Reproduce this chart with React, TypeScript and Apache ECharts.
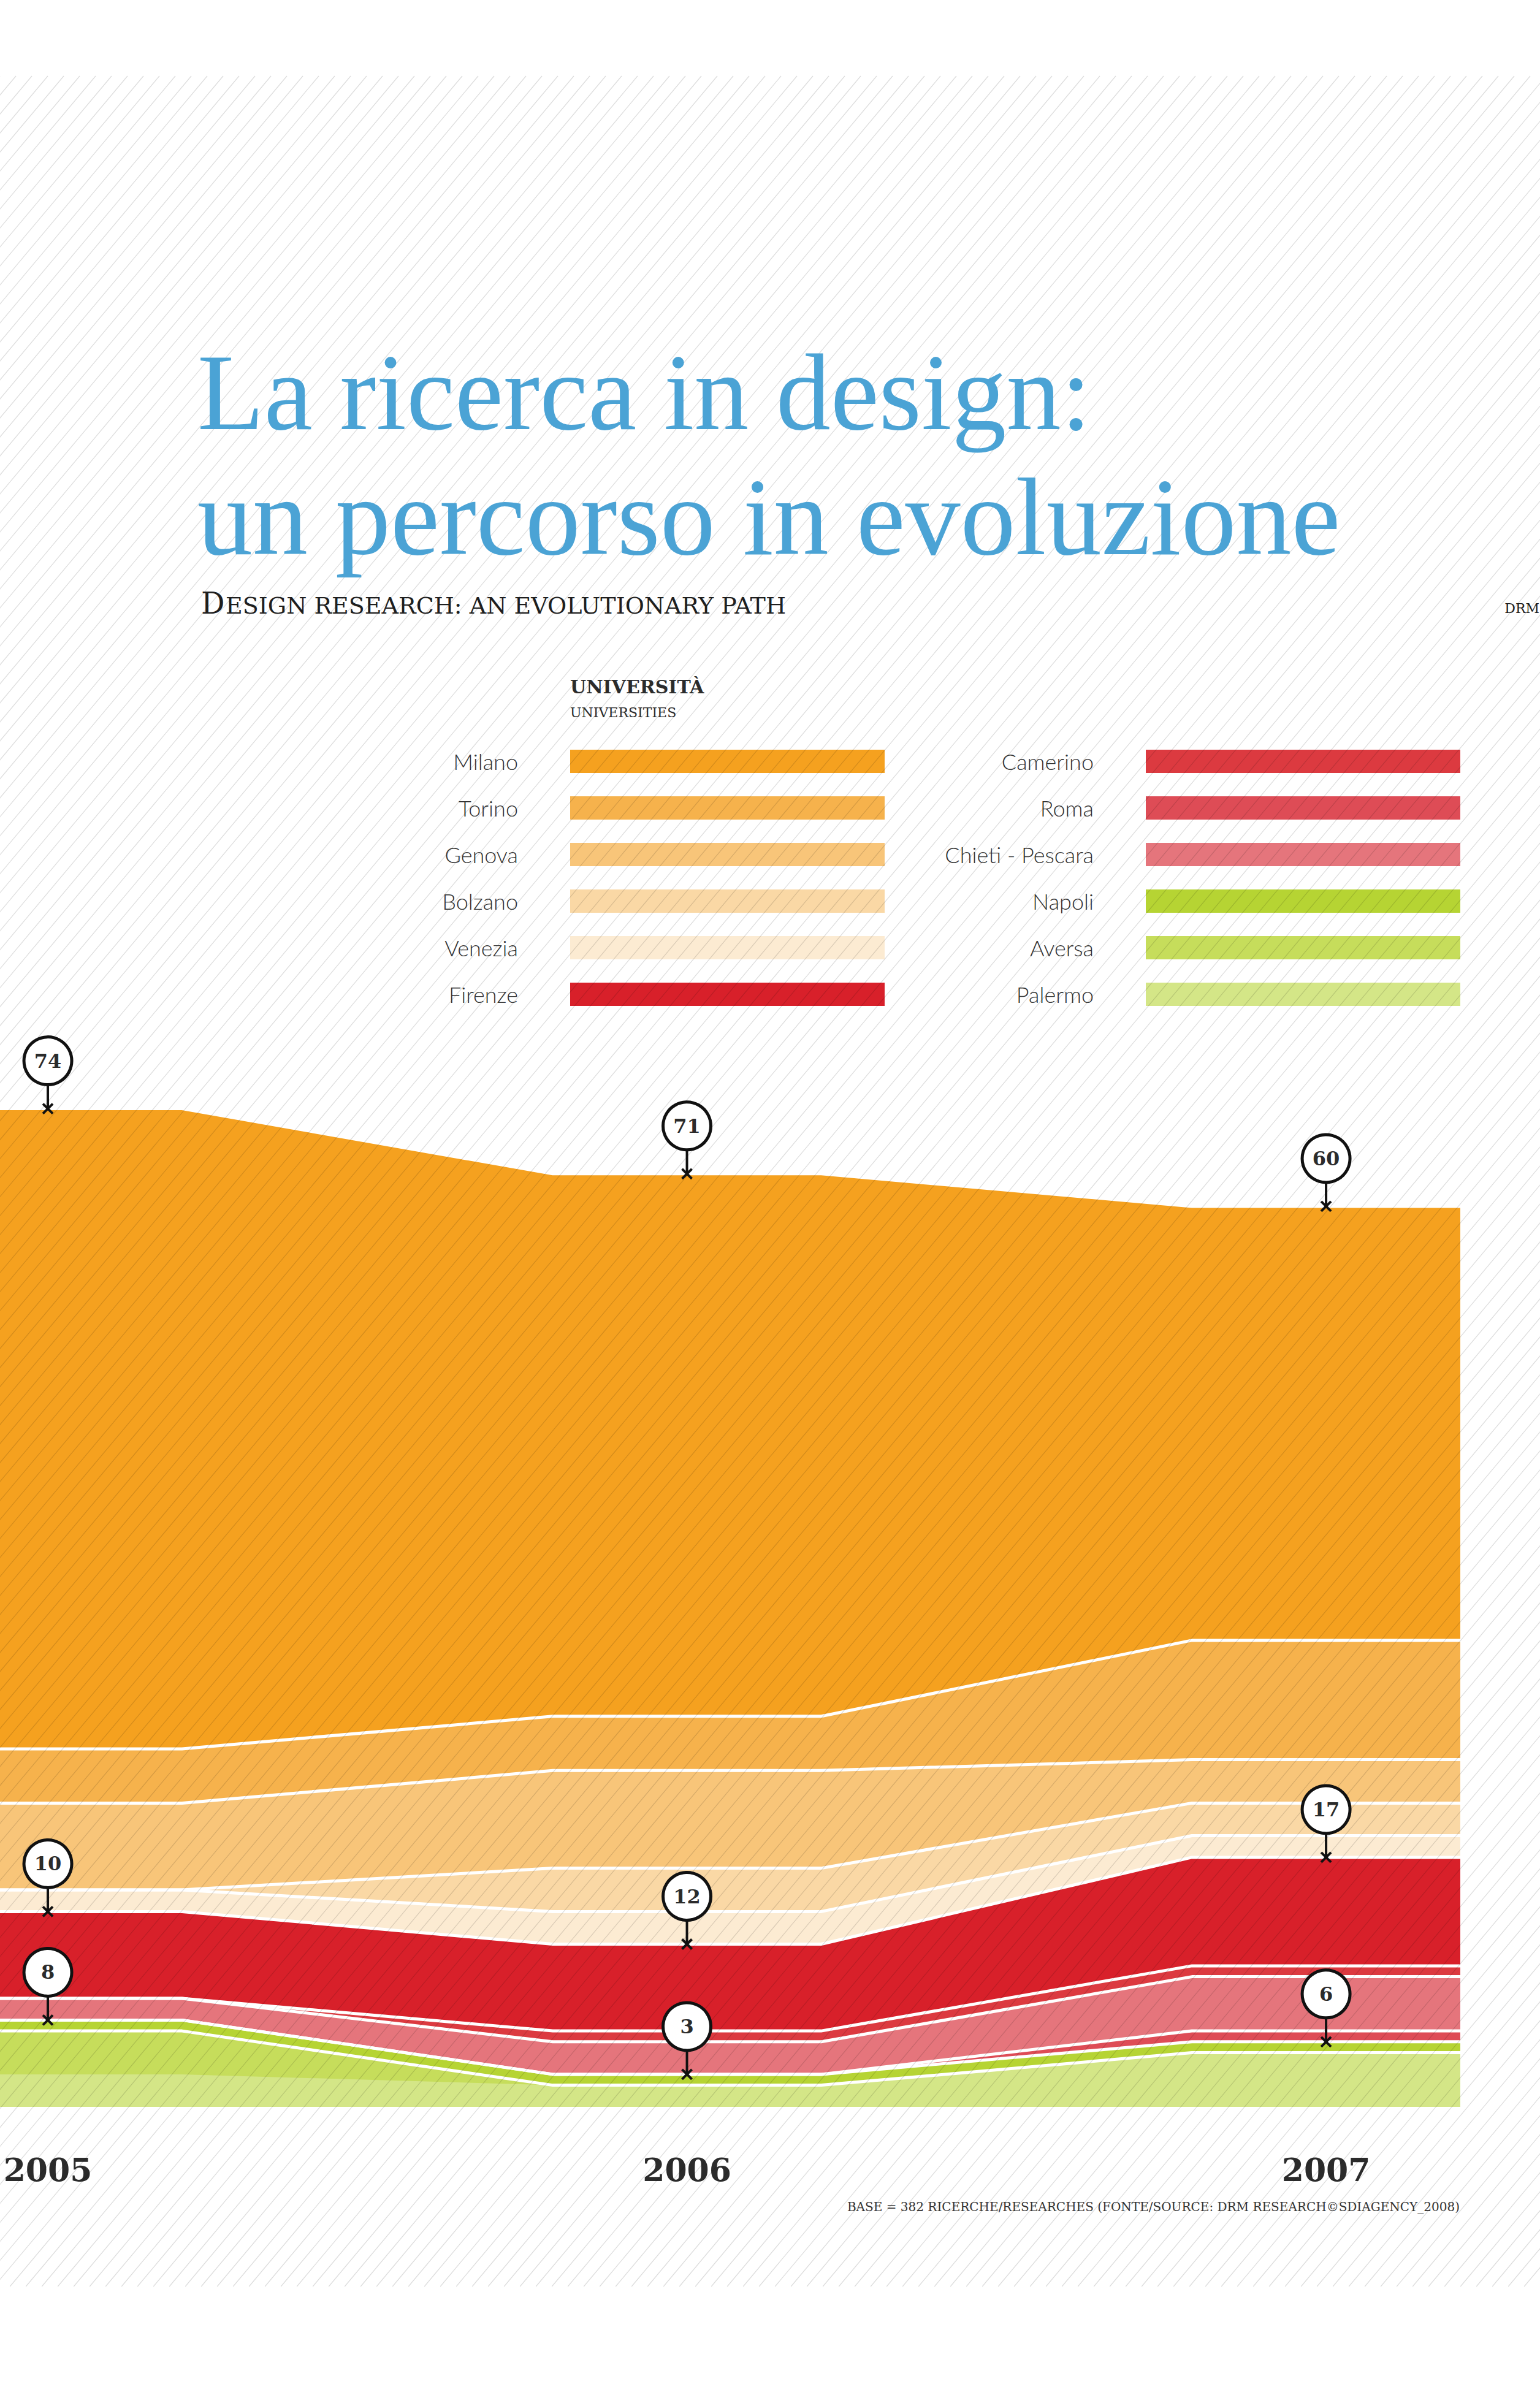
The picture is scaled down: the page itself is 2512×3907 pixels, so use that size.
import React, { useEffect, useRef } from "react";
import * as echarts from "echarts";

// Years shown on the horizontal axis
const YEARS = ["2005", "2006", "2007"];

// Universities, in legend order
const UNIVERSITIES = [
  "Milano",
  "Torino",
  "Genova",
  "Bolzano",
  "Venezia",
  "Firenze",
  "Camerino",
  "Roma",
  "Chieti - Pescara",
  "Napoli",
  "Aversa",
  "Palermo",
];

// Research projects per university, one value per year (2005, 2006, 2007)
const MILANO = [59, 50, 40];
const TORINO = [5, 5, 11];
const GENOVA = [8, 9, 4];
const BOLZANO = [0, 4, 3];
const VENEZIA = [2, 3, 2];
const FIRENZE = [8, 8, 10];
const CAMERINO = [0, 1, 1];
const ROMA = [0, 0, 1];
const CHIETI = [2, 3, 5];
const NAPOLI = [1, 1, 1];
const AVERSA = [4, 0, 0];
const PALERMO = [3, 2, 5];

const COLORS = [
  "#f5a11f",
  "#f6b24c",
  "#f8c579",
  "#fad8a5",
  "#fcebd2",
  "#d8202a",
  "#dc3a40",
  "#de4c56",
  "#e5757c",
  "#b6d433",
  "#c6dd5b",
  "#d4e687",
];

// Geographic groups summed in the round callouts
const NORTH = ["Milano", "Torino", "Genova", "Bolzano", "Venezia"];
const CENTER = ["Firenze", "Camerino", "Roma", "Chieti - Pescara"];
const SOUTH = ["Napoli", "Aversa", "Palermo"];

// Stacking order, from the bottom band to the top one
const STACK_ORDER = [
  "Palermo",
  "Aversa",
  "Napoli",
  "Roma",
  "Chieti - Pescara",
  "Camerino",
  "Firenze",
  "Venezia",
  "Bolzano",
  "Genova",
  "Torino",
  "Milano",
];

const VALUES: Record<string, number[]> = {
  Milano: MILANO,
  Torino: TORINO,
  Genova: GENOVA,
  Bolzano: BOLZANO,
  Venezia: VENEZIA,
  Firenze: FIRENZE,
  Camerino: CAMERINO,
  Roma: ROMA,
  "Chieti - Pescara": CHIETI,
  Napoli: NAPOLI,
  Aversa: AVERSA,
  Palermo: PALERMO,
};

const W = 2512;
const H = 3907;

// each year is a flat plateau of +/- PLATEAU around its axis position
const PLATEAU = 0.21;

const SERIF = '"Liberation Serif", "DejaVu Serif", serif';
const SLAB = '"DejaVu Serif", serif';
const SANS = 'Lato, "Open Sans", sans-serif';
const INK = "#2b2b2b";

function colorOf(name: string) {
  return COLORS[UNIVERSITIES.indexOf(name)];
}

function plateauPoints(values: number[]) {
  const pts: number[][] = [];
  values.forEach((v, i) => {
    pts.push([i - PLATEAU, v]);
    pts.push([i + PLATEAU, v]);
  });
  return pts;
}

function groupSum(names: string[], yearIdx: number) {
  return names.reduce((s, n) => s + VALUES[n][yearIdx], 0);
}

// running totals: top edge of each band in the stack
function cumulativeTops() {
  const tops: Record<string, number[]> = {};
  let run = YEARS.map(() => 0);
  STACK_ORDER.forEach((name) => {
    run = run.map((r, i) => r + VALUES[name][i]);
    tops[name] = run.slice();
  });
  return tops;
}

function buildOption() {
  const tops = cumulativeTops();

  // bands are painted top-down, each filled to the baseline, so that the
  // next lower band covers the part below its own top edge
  const areaSeries = STACK_ORDER.slice()
    .reverse()
    .map((name) => ({
      name,
      type: "line",
      data: plateauPoints(tops[name]),
      symbol: "none",
      silent: true,
      z: 2,
      lineStyle: { width: 0, opacity: 0 },
      areaStyle: { color: colorOf(name), opacity: 1, origin: "start" },
    }));

  const edgeSeries = STACK_ORDER.filter((n) => n !== "Palermo").map((name) => ({
    name: name + " edge",
    type: "line",
    data: plateauPoints(tops[name]),
    symbol: "none",
    silent: true,
    z: 3,
    lineStyle: { width: 5, color: "#ffffff" },
  }));

  // callouts: [year index, top of group band, group total]
  const callouts: number[][] = [];
  YEARS.forEach((_, i) => {
    const south = groupSum(SOUTH, i);
    const center = groupSum(CENTER, i);
    const north = groupSum(NORTH, i);
    callouts.push([i, south + center + north, north]);
    callouts.push([i, south + center, center]);
    callouts.push([i, south, south]);
  });

  const calloutSeries = {
    type: "custom",
    name: "totali",
    data: callouts,
    encode: { x: 0, y: 1 },
    clip: false,
    silent: true,
    z: 10,
    renderItem: (params: any, api: any) => {
      const p = api.coord([api.value(0), api.value(1)]);
      const label = api.value(2);
      const cx = p[0];
      const cy = p[1] - 78;
      const k = 8;
      return {
        type: "group",
        children: [
          {
            type: "line",
            shape: { x1: p[0], y1: cy + 38, x2: p[0], y2: p[1] },
            style: { stroke: "#111", lineWidth: 4 },
          },
          {
            type: "line",
            shape: { x1: p[0] - k, y1: p[1] - k, x2: p[0] + k, y2: p[1] + k },
            style: { stroke: "#111", lineWidth: 4 },
          },
          {
            type: "line",
            shape: { x1: p[0] + k, y1: p[1] - k, x2: p[0] - k, y2: p[1] + k },
            style: { stroke: "#111", lineWidth: 4 },
          },
          {
            type: "circle",
            shape: { cx, cy, r: 39 },
            style: { fill: "#ffffff", stroke: "#111", lineWidth: 5 },
          },
          {
            type: "text",
            x: cx,
            y: cy,
            style: {
              text: String(label),
              fill: INK,
              font: "bold 32px " + SLAB,
              align: "center",
              verticalAlign: "middle",
              textAlign: "center",
              textVerticalAlign: "middle",
            },
          },
        ],
      };
    },
  };

  // diagonal hatching of the page
  const hatch: any[] = [];
  const hTop = 124;
  const hBottom = 3730;
  const dx = (hBottom - hTop) / Math.tan((50 * Math.PI) / 180);
  for (let x0 = -dx; x0 < W; x0 += 26) {
    hatch.push({
      type: "line",
      silent: true,
      z: 5,
      shape: { x1: x0, y1: hBottom, x2: x0 + dx, y2: hTop },
      style: { stroke: "rgba(0,0,0,0.14)", lineWidth: 1.2 },
    });
  }

  const text = (
    x: number,
    y: number,
    s: string,
    font: string,
    fill: string,
    align = "left"
  ) => ({
    type: "text",
    x,
    y,
    z: 20,
    silent: true,
    style: {
      text: s,
      font,
      fill,
      align,
      verticalAlign: "middle",
      textAlign: align,
      textVerticalAlign: "middle",
    },
  });

  const legend: any[] = [];
  UNIVERSITIES.forEach((name, idx) => {
    const col = idx < 6 ? 0 : 1;
    const row = idx % 6;
    const barX = col === 0 ? 930 : 1869;
    const labelX = col === 0 ? 845 : 1784;
    const top = 1223 + row * 76;
    legend.push({
      type: "rect",
      z: 4,
      silent: true,
      shape: { x: barX, y: top, width: 513, height: 38 },
      style: { fill: colorOf(name) },
    });
    legend.push(text(labelX, top + 19, name, "300 36px " + SANS, "#333333", "right"));
  });

  const graphics = [
    ...hatch,
    text(322, 640, "La ricerca in design:", "178px " + SERIF, "#4ba3d5"),
    text(322, 843, "un percorso in evoluzione", "180px " + SERIF, "#4ba3d5"),
    text(328, 984, "D", "48px " + SLAB, "#1e1e1e"),
    text(368, 988, "ESIGN RESEARCH: AN EVOLUTIONARY PATH", "38px " + SLAB, "#1e1e1e"),
    text(2511, 992, "DRM", "22px " + SLAB, "#1e1e1e", "right"),
    text(930, 1120, "UNIVERSITÀ", "bold 30px " + SLAB, INK),
    text(930, 1162, "UNIVERSITIES", "22px " + SLAB, INK),
    ...legend,
    text(
      2381,
      3600,
      "BASE = 382 RICERCHE/RESEARCHES (FONTE/SOURCE: DRM RESEARCH©SDIAGENCY_2008)",
      "20px " + SLAB,
      "#333333",
      "right"
    ),
  ];

  const gridTop = 1667;
  const gridBottom = 3437;
  const leftOffset = 78 / 1042;

  return {
    animation: false,
    backgroundColor: "#ffffff",
    grid: {
      left: 0,
      right: W - 2382,
      top: gridTop,
      bottom: H - gridBottom,
      containLabel: false,
    },
    xAxis: {
      type: "value",
      min: -leftOffset,
      max: YEARS.length - 1 + PLATEAU,
      axisLine: { show: false },
      axisTick: { show: false },
      splitLine: { show: false },
      axisLabel: {
        customValues: YEARS.map((_, i) => i),
        formatter: (v: number) => YEARS[Math.round(v)] ?? "",
        margin: 76,
        fontSize: 52,
        fontWeight: "bold",
        fontFamily: SLAB,
        color: INK,
      },
    },
    yAxis: {
      type: "value",
      min: 0,
      max: 100,
      show: false,
    },
    series: [...areaSeries, ...edgeSeries, calloutSeries],
    graphic: { elements: graphics },
  };
}

export default function App() {
  const ref = useRef<HTMLDivElement>(null);

  useEffect(() => {
    document.body.style.margin = "0";
    if (!ref.current) return;
    const chart = echarts.init(ref.current, undefined, { renderer: "svg" });
    chart.setOption(buildOption() as any);
    return () => chart.dispose();
  }, []);

  return (
    <div
      ref={ref}
      style={{ position: "absolute", left: 0, top: 0, width: W, height: H }}
    />
  );
}
